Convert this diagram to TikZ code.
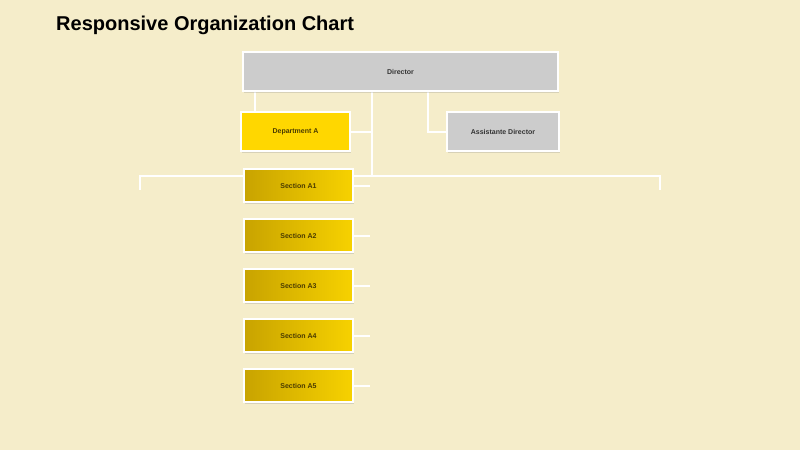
\documentclass[tikz,border=0pt]{standalone}
\usepackage{fontspec}
\setmainfont{Liberation Sans}
\usetikzlibrary{shadows}
\definecolor{paper}{HTML}{F5EDCA}
\definecolor{boxgray}{HTML}{CCCCCC}
\definecolor{deptyellow}{HTML}{FFD700}
\definecolor{secdark}{HTML}{C8A300}
\definecolor{seclight}{HTML}{F7D200}
\definecolor{ink}{HTML}{333333}
\definecolor{brownink}{HTML}{4A3B00}
\pgfdeclarelayer{back}
\pgfdeclarelayer{links}
\pgfsetlayers{back,links,main}

\begin{document}
\begin{tikzpicture}[x=1pt,y=1pt]
\tikzstyle{every node}+=[inner sep=0pt]
\tikzstyle{box}=[draw=white, line width=2pt, font=\fontsize{7}{8}\selectfont\bfseries,
  drop shadow={opacity=0.25, shadow xshift=1pt, shadow yshift=-1.5pt}]
\tikzstyle{chief}=[box, fill=boxgray, text=ink, minimum height=39pt]
\tikzstyle{dept}=[box, fill=deptyellow, text=brownink, minimum width=109pt, minimum height=39pt]
\tikzstyle{section}=[box, left color=secdark, right color=seclight, text=brownink, minimum width=109pt, minimum height=33pt]
\tikzstyle{link}=[draw=white, line width=2pt]
\begin{pgfonlayer}{back}
\fill [paper] (0,0) rectangle (800,-450);
\end{pgfonlayer}
\node [anchor=base west, font=\fontsize{20}{24}\selectfont\bfseries] (title) at (56,-30) {Responsive Organization Chart};
\node [chief, minimum width=315pt] (dir) at (400.5,-71.5) {Director};
\node [dept] (deptA) at (295.5,-131.5) {Department A};
\node [chief, minimum width=112pt] (asst) at (503,-131.5) {Assistante Director};
\node [section] (secA1) at (298.5,-185.5) {Section A1};
\node [section] (secA2) at (298.5,-235.5) {Section A2};
\node [section] (secA3) at (298.5,-285.5) {Section A3};
\node [section] (secA4) at (298.5,-335.5) {Section A4};
\node [section] (secA5) at (298.5,-385.5) {Section A5};
\coordinate (spine) at (372,-176);
\coordinate (legL) at (140,-190);
\coordinate (barR) at (660,-176);
\coordinate (legR) at (660,-190);
\begin{pgfonlayer}{links}
\draw [link] ([xshift=15pt]deptA.north west |- dir.south) -- ([xshift=15pt]deptA.north west);
\draw [link] (dir.south -| spine) -- (spine);
\draw [link] (deptA.east) -- (deptA.east -| spine);
\draw [link] ([xshift=-18pt]asst.west |- dir.south) |- (asst.west);
\draw [link] (legL) |- (barR) -- (legR);
\draw [link] (secA1.east) -- ++(16,0);
\draw [link] (secA2.east) -- ++(16,0);
\draw [link] (secA3.east) -- ++(16,0);
\draw [link] (secA4.east) -- ++(16,0);
\draw [link] (secA5.east) -- ++(16,0);
\end{pgfonlayer}
\end{tikzpicture}
\end{document}
